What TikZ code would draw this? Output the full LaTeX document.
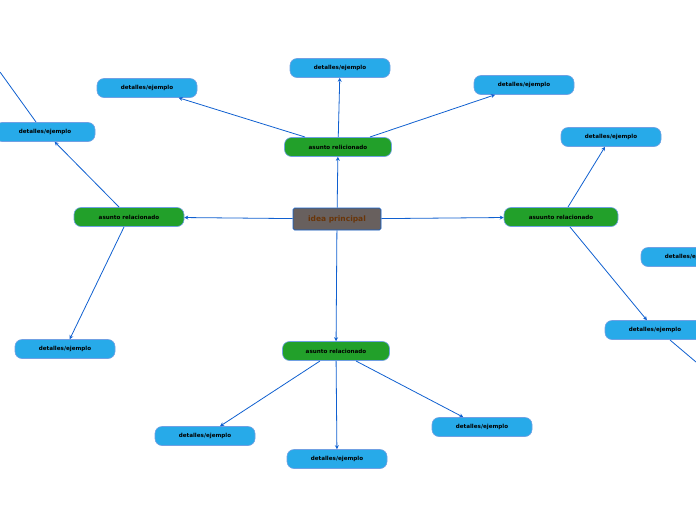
\documentclass[tikz,border=0pt]{standalone}
\usepackage{fontspec}
\setmainfont{DejaVu Sans}
\usetikzlibrary{arrows.meta}
\definecolor{lblue}{HTML}{27AAE9}
\definecolor{sgreen}{HTML}{22A02A}
\definecolor{lcol}{HTML}{1060D0}
\definecolor{mgray}{HTML}{68605E}
\definecolor{mtext}{HTML}{6A3508}
\begin{document}
\begin{tikzpicture}[x=1pt,y=-1pt,
 base/.style={rounded corners=7pt,draw=lcol!60,line width=0.6pt,font=\fontsize{5.6}{7}\selectfont\bfseries,inner sep=0pt},
 det/.style={base,fill=lblue,minimum width=100pt,minimum height=19pt},
 sub/.style={base,fill=sgreen,minimum height=19pt},
 con/.style={draw=lcol,line width=0.8pt,-{Stealth[length=4pt,width=4pt]}},
 free/.style={draw=lcol,line width=0.8pt}]
\useasboundingbox (0,0) rectangle (696,520);
\node[base,rounded corners=1.5pt,fill=mgray,draw=lcol,minimum width=88pt,minimum height=22pt,font=\fontsize{7.5}{9}\selectfont\bfseries,text=mtext] (m) at (337,219) {idea principal};
\node[sub,minimum width=107pt] (t) at (338,147) {asunto relicionado};
\node[sub,minimum width=110pt] (l) at (129,217) {asunto relacionado};
\node[sub,minimum width=114pt] (r) at (561,217) {asuunto relacionado};
\node[sub,minimum width=107pt] (b) at (336,351) {asunto relacionado};
\node[det] (t1) at (147,88) {detalles/ejemplo};
\node[det] (t2) at (340,68) {detalles/ejemplo};
\node[det] (t3) at (524,85) {detalles/ejemplo};
\node[det] (l1) at (45,132) {detalles/ejemplo};
\node[det] (l2) at (65,349) {detalles/ejemplo};
\node[det] (r1) at (611,137) {detalles/ejemplo};
\node[det] (r0) at (691,257) {detalles/ejemplo};
\node[det] (r2) at (655,330) {detalles/ejemplo};
\node[det] (b1) at (205,436) {detalles/ejemplo};
\node[det] (b2) at (337,459) {detalles/ejemplo};
\node[det] (b3) at (482,427) {detalles/ejemplo};
\coordinate (f1) at (0,72);
\coordinate (f2) at (696,362);
\draw[con] (m) -- (t);
\draw[con] (m) -- (l);
\draw[con] (m) -- (r);
\draw[con] (m) -- (b);
\draw[con] (305,137) -- (t1);
\draw[con] (t) -- (t2);
\draw[con] (370,137) -- (t3);
\draw[con] (119,207) -- (l1);
\draw[con] (124,227) -- (l2);
\draw[con] (568,207) -- (r1);
\draw[con] (570,227) -- (r2);
\draw[con] (320,361) -- (b1);
\draw[con] (b) -- (b2);
\draw[con] (356,361) -- (b3);
\draw[free] (36,122) -- (f1);
\draw[free] (670,340) -- (f2);
\end{tikzpicture}
\end{document}
